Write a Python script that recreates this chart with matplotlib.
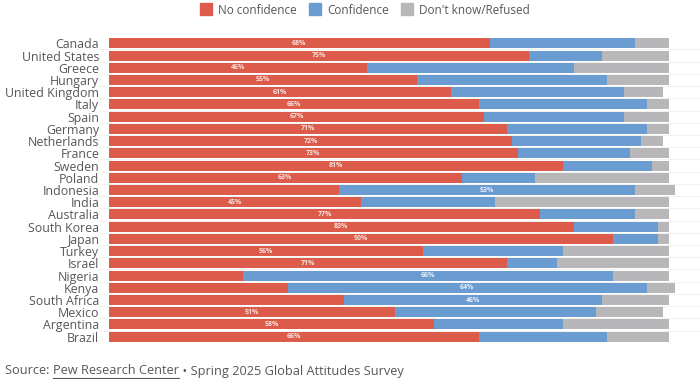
import matplotlib.pyplot as plt
from matplotlib.lines import Line2D
import numpy as np

plt.rcParams['font.family'] = ['Open Sans', 'DejaVu Sans']

countries = ['Canada', 'United States', 'Greece', 'Hungary', 'United Kingdom', 'Italy',
             'Spain', 'Germany', 'Netherlands', 'France', 'Sweden', 'Poland',
             'Indonesia', 'India', 'Australia', 'South Korea', 'Japan', 'Turkey',
             'Israel', 'Nigeria', 'Kenya', 'South Africa', 'Mexico', 'Argentina', 'Brazil']
no_conf = [68, 75, 46, 55, 61, 66, 67, 71, 72, 73, 81, 63, 41, 45, 77, 83, 90, 56, 71, 24, 32, 42, 51, 58, 66]
conf = [26, 13, 37, 34, 31, 30, 25, 25, 23, 20, 16, 13, 53, 24, 17, 15, 8, 25, 9, 66, 64, 46, 36, 23, 23]
dont_know = [6, 12, 17, 11, 7, 4, 8, 4, 4, 7, 3, 24, 7, 31, 6, 2, 2, 19, 20, 10, 5, 12, 12, 19, 11]

n = len(countries)

red = '#dd5b4b'
blue = '#6a9bd1'
grey = '#b7b7b9'
txt = '#575757'

fig = plt.figure(figsize=(7, 3.79), dpi=100)
row_px = (336.7 - 43.3) / (n - 1)
half = row_px / 2
ax = fig.add_axes([109 / 700, 1 - (336.7 + half) / 379, 560 / 700, (n * row_px) / 379])

y = np.arange(n)
left2 = np.array(no_conf)
left3 = left2 + np.array(conf)
ax.barh(y, no_conf, height=0.82, color=red, clip_on=False)
ax.barh(y, conf, left=left2, height=0.82, color=blue, clip_on=False)
ax.barh(y, dont_know, left=left3, height=0.82, color=grey, clip_on=False)

# faint separators
for i in range(n - 1):
    ax.plot([-2, 110], [i + 0.5, i + 0.5], color='#f2f2f2', lw=0.8, zorder=0, clip_on=False)

# label the biggest segment
for i in range(n):
    if no_conf[i] >= conf[i]:
        ax.text(no_conf[i] / 2, i, f'{no_conf[i]}%', ha='center', va='center',
                fontsize=5, color='#f7e3df', fontweight='bold')
    else:
        ax.text(no_conf[i] + conf[i] / 2, i, f'{conf[i]}%', ha='center', va='center',
                fontsize=5, color='#e6eef8', fontweight='bold')

ax.set_xlim(0, 100)
ax.set_ylim(n - 0.5, -0.5)
ax.set_yticks(y)
ax.set_yticklabels(countries, fontsize=8.9, color=txt)
ax.set_xticks([])
ax.tick_params(axis='y', length=0, pad=7)
for s in ax.spines.values():
    s.set_visible(False)

handles = [Line2D([], [], marker='s', ls='', markersize=9, color=c) for c in (red, blue, grey)]
fig.legend(handles, ['No confidence', 'Confidence', "Don't know/Refused"], loc='center',
           bbox_to_anchor=(362 / 700, 1 - 10 / 379), ncol=3, frameon=False, fontsize=8.5,
           handletextpad=0.05, columnspacing=0.5, labelcolor=txt, borderaxespad=0)

# source line, pieces placed one after another
r = fig.canvas.get_renderer()
ys = 1 - 371 / 379
x = 5
pieces = []
for s in ['Source: ', 'Pew Research Center', ' \u2022 Spring 2025 Global Attitudes Survey']:
    t = fig.text(x / 700, ys, s, fontsize=9.2, color=txt, va='center')
    bb = t.get_window_extent(r)
    pieces.append((x, x + bb.width))
    x = x + bb.width
x0, x1 = pieces[1]
fig.add_artist(Line2D([x0 / 700, x1 / 700], [1 - 378 / 379] * 2, color=txt, lw=0.8))

fig.savefig('out.png', dpi=100)
